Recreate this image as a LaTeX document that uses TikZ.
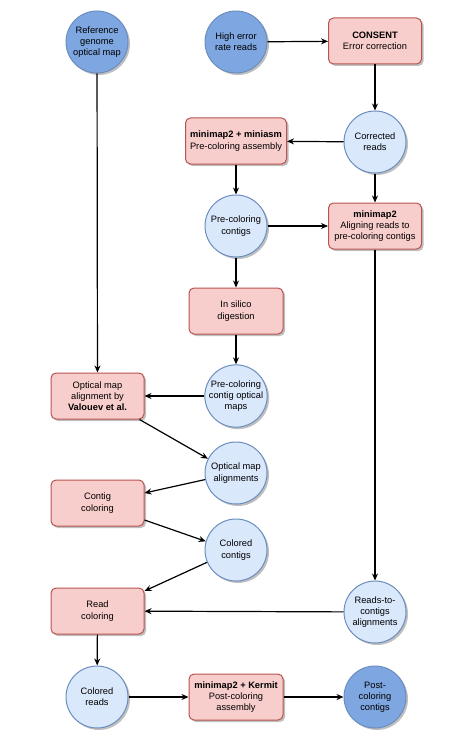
\documentclass[tikz,border=0pt]{standalone}
\usepackage{fontspec}
\setmainfont{Liberation Sans}
\usetikzlibrary{arrows.meta,shadows}
\definecolor{dkblue}{HTML}{7EA6E0}
\definecolor{ltblue}{HTML}{DAE8FC}
\definecolor{bstroke}{HTML}{6C8EBF}
\definecolor{pink}{HTML}{F8CECC}
\definecolor{pstroke}{HTML}{B85450}
\tikzset{
  sh/.style={drop shadow={opacity=0.25,shadow xshift=2pt,shadow yshift=-2pt,fill=black}},
  txt/.style={font=\fontsize{9.3}{11.2}\selectfont},
  circd/.style={circle,draw=bstroke,fill=dkblue,line width=1pt,minimum size=62pt,inner sep=0pt,align=center,txt,sh},
  circl/.style={circle,draw=bstroke,fill=ltblue,line width=1pt,minimum size=62pt,inner sep=0pt,align=center,txt,sh},
  pbox/.style={rectangle,rounded corners=5pt,draw=pstroke,fill=pink,line width=1pt,minimum width=93pt,minimum height=46pt,inner sep=1pt,align=center,txt,sh},
  arr/.style={-{Stealth[length=7pt,width=6pt]},line width=1.2pt,black},
}
\begin{document}
\begin{tikzpicture}[x=1pt,y=-1pt]
\useasboundingbox (0,0) rectangle (474,733);
\fill[white] (0,0) rectangle (474,733);
\node[circd] (ref) at (97,42) {Reference\\genome\\optical map};
\node[circd] (her) at (236,42) {High error\\rate reads};
\node[pbox] (cons) at (375,41) {\textbf{CONSENT}\\Error correction};
\node[circl] (corr) at (375,142) {Corrected\\reads};
\node[pbox,minimum width=101pt] (mm) at (236,141) {\textbf{minimap2 + miniasm}\\Pre-coloring assembly};
\node[circl] (pcc) at (236,226) {Pre-coloring\\contigs};
\node[pbox] (mal) at (375,226) {\textbf{minimap2}\\Aligning reads to\\pre-coloring contigs};
\node[pbox,minimum width=94pt] (isd) at (236,311) {In silico\\digestion};
\node[circl] (pcom) at (236,396) {Pre-coloring\\contig optical\\maps};
\node[pbox] (oma) at (97.5,396) {Optical map\\alignment by\\\textbf{Valouev et al.}};
\node[circl] (oac) at (236,473) {Optical map\\alignments};
\node[pbox] (cc) at (97.5,503) {Contig\\coloring};
\node[circl] (ccs) at (236,550) {Colored\\contigs};
\node[pbox] (rc) at (97.5,611) {Read\\coloring};
\node[circl] (rca) at (375,612) {Reads-to-\\contigs\\alignments};
\node[circl] (cr) at (97,697) {Colored\\reads};
\node[pbox,minimum width=94pt] (mk) at (236,697) {\textbf{minimap2 + Kermit}\\Post-coloring\\assembly};
\node[circd] (pc) at (375,697) {Post-\\coloring\\contigs};

\draw[arr] (ref) -- (oma);
\draw[arr] (her) -- (cons);
\draw[arr] (cons) -- (corr);
\draw[arr] (corr) -- (mm);
\draw[arr] (corr) -- (mal);
\draw[arr] (mm) -- (pcc);
\draw[arr] (pcc) -- (mal);
\draw[arr] (pcc) -- (isd);
\draw[arr] (isd) -- (pcom);
\draw[arr] (pcom) -- (oma);
\draw[arr] ([xshift=-5pt]oma.south east) -- (oac.153);
\draw[arr] (oac.192) -- ([yshift=10pt]cc.east);
\draw[arr] ([yshift=-17pt]cc.east) -- (ccs.164);
\draw[arr] (ccs.203) -- ([yshift=20pt]rc.east);
\draw[arr] (mal) -- (rca);
\draw[arr] (rca) -- (rc);
\draw[arr] (rc) -- (cr);
\draw[arr] (cr) -- (mk);
\draw[arr] (mk) -- (pc);
\end{tikzpicture}
\end{document}
